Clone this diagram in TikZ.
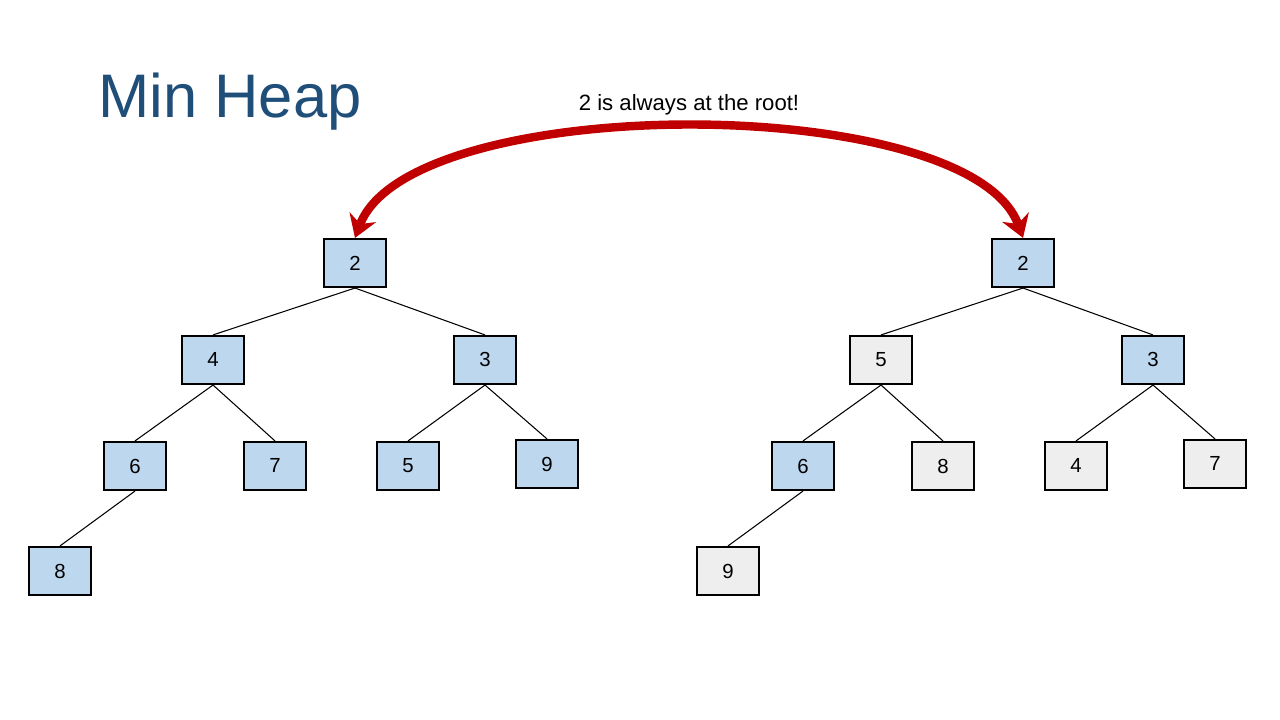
\documentclass[tikz,border=0pt]{standalone}
\usepackage{fontspec}
\setmainfont{Liberation Sans}
\usetikzlibrary{arrows.meta}
\definecolor{heapblue}{HTML}{BDD7EE}
\definecolor{heapgray}{HTML}{EEEEEE}
\definecolor{titleblue}{HTML}{1F4E79}
\definecolor{arrowred}{HTML}{C00000}
\tikzset{
  key/.style={draw=black, line width=0.6pt, minimum width=0.62cm, minimum height=0.48cm,
    inner sep=0pt, font=\fontsize{5.8}{6}\selectfont},
  bluekey/.style={key, fill=heapblue},
  graykey/.style={key, fill=heapgray},
  link/.style={line width=0.3pt}
}
\begin{document}
\begin{tikzpicture}
\useasboundingbox (0,0) rectangle (12.8,7.2);
\node[anchor=west, text=titleblue, font=\fontsize{17.5}{18}\selectfont] (title) at (0.86,6.18) {Min Heap};
\node[font=\fontsize{6.3}{7}\selectfont] (note) at (6.89,6.15) {2 is always at the root!};

% left heap
\node[bluekey] (l2) at (3.55,4.57) {2};
\node[bluekey] (l4) at (2.13,3.60) {4};
\node[bluekey] (l3) at (4.85,3.60) {3};
\node[bluekey] (l6) at (1.35,2.54) {6};
\node[bluekey] (l7) at (2.75,2.54) {7};
\node[bluekey] (l5) at (4.08,2.54) {5};
\node[bluekey] (l9) at (5.47,2.56) {9};
\node[bluekey] (l8) at (0.60,1.49) {8};
\draw[link] (l2.south) -- (l4.north);
\draw[link] (l2.south) -- (l3.north);
\draw[link] (l4.south) -- (l6.north);
\draw[link] (l4.south) -- (l7.north);
\draw[link] (l3.south) -- (l5.north);
\draw[link] (l3.south) -- (l9.north);
\draw[link] (l6.south) -- (l8.north);

% right heap
\node[bluekey] (r2) at (10.23,4.57) {2};
\node[graykey] (r5) at (8.81,3.60) {5};
\node[bluekey] (r3) at (11.53,3.60) {3};
\node[bluekey] (r6) at (8.03,2.54) {6};
\node[graykey] (r8) at (9.43,2.54) {8};
\node[graykey] (r4) at (10.76,2.54) {4};
\node[graykey] (r7) at (12.15,2.56) {7};
\node[graykey] (r9) at (7.28,1.49) {9};
\draw[link] (r2.south) -- (r5.north);
\draw[link] (r2.south) -- (r3.north);
\draw[link] (r5.south) -- (r6.north);
\draw[link] (r5.south) -- (r8.north);
\draw[link] (r3.south) -- (r4.north);
\draw[link] (r3.south) -- (r7.north);
\draw[link] (r6.south) -- (r9.north);

% arrow between roots
\draw[arrowred, line width=2.4pt, {Stealth[length=0.22cm,width=0.28cm]}-{Stealth[length=0.22cm,width=0.28cm]}]
  (l2.north) .. controls (4.1,6.29) and (9.7,6.29) .. (r2.north);
\end{tikzpicture}
\end{document}
